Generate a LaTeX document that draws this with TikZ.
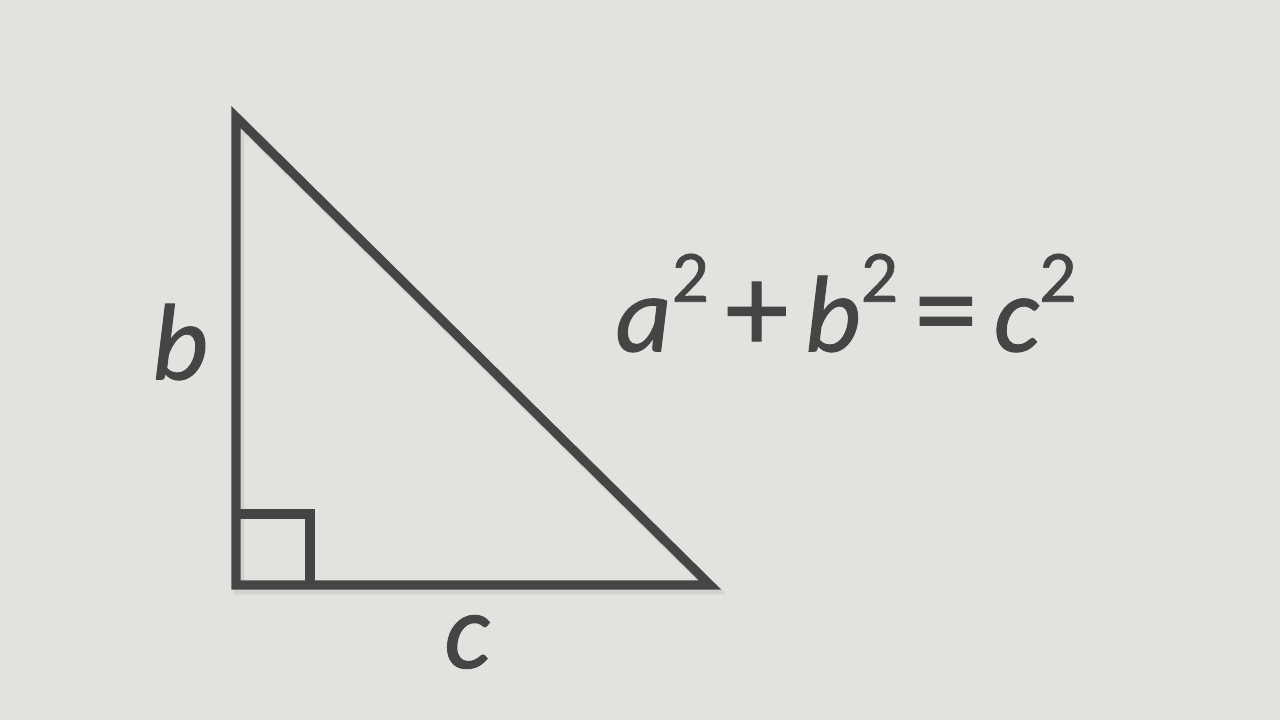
\documentclass[tikz,border=0pt]{standalone}
\usepackage{fontspec}
\setmainfont{Carlito}
\newfontface\letterfont{Carlito Italic}[FakeBold=0.9]
\newfontface\signfont{Carlito}[FakeBold=0.9]
\usepackage{tikz}
\usetikzlibrary{positioning}

\definecolor{paper}{HTML}{E2E3DF}
\definecolor{ink}{HTML}{454545}

\newcommand{\sqr}{\raisebox{0.95ex}{\fontsize{21}{21}\selectfont\signfont 2}}

\tikzset{
	edge/.style={draw=ink, line width=2.6pt, miter limit=10},
	shade/.style={draw=black, opacity=0.07, line width=3pt},
	lbl/.style={text=ink, font=\fontsize{31}{31}\selectfont\letterfont, inner sep=0pt}
}

\begin{document}
\begin{tikzpicture}
	
	% Background
	\fill[paper] (0,0) rectangle (12.8,7.2);
	\useasboundingbox (0,0) rectangle (12.8,7.2);
	
	% Corners of the triangle
	\coordinate (A) at (2.36,6.03);
	\coordinate (B) at (2.36,1.35);
	\coordinate (C) at (7.10,1.35);
	
	% Draw shadow
	\draw[shade] ([shift={(0.03,-0.04)}]A) -- ([shift={(0.03,-0.04)}]B) -- ([shift={(0.03,-0.04)}]C) -- cycle;
	
	% Draw triangle
	\draw[edge] (A) -- (B) -- (C) -- cycle;
	
	% Draw right angle
	\draw[edge] (B) ++(0,0.71) coordinate (R1) -- ++(0.74,0) coordinate (R2) -- ++(0,-0.71);
	
	% Label sides
	\node[lbl] (lb) at (1.80,3.78) {b};
	\node[lbl] (lc) at (4.67,0.78) {c};
	
	% Equation
	\node[lbl] (eq) at (8.46,4.17)
		{a\sqr\hspace{0.15em}{\signfont\fontsize{36}{36}\selectfont +}\hspace{0.15em}b\sqr\hspace{0.15em}{\signfont\fontsize{36}{36}\selectfont =}\hspace{0.15em}c\sqr};
	
\end{tikzpicture}
\end{document}
